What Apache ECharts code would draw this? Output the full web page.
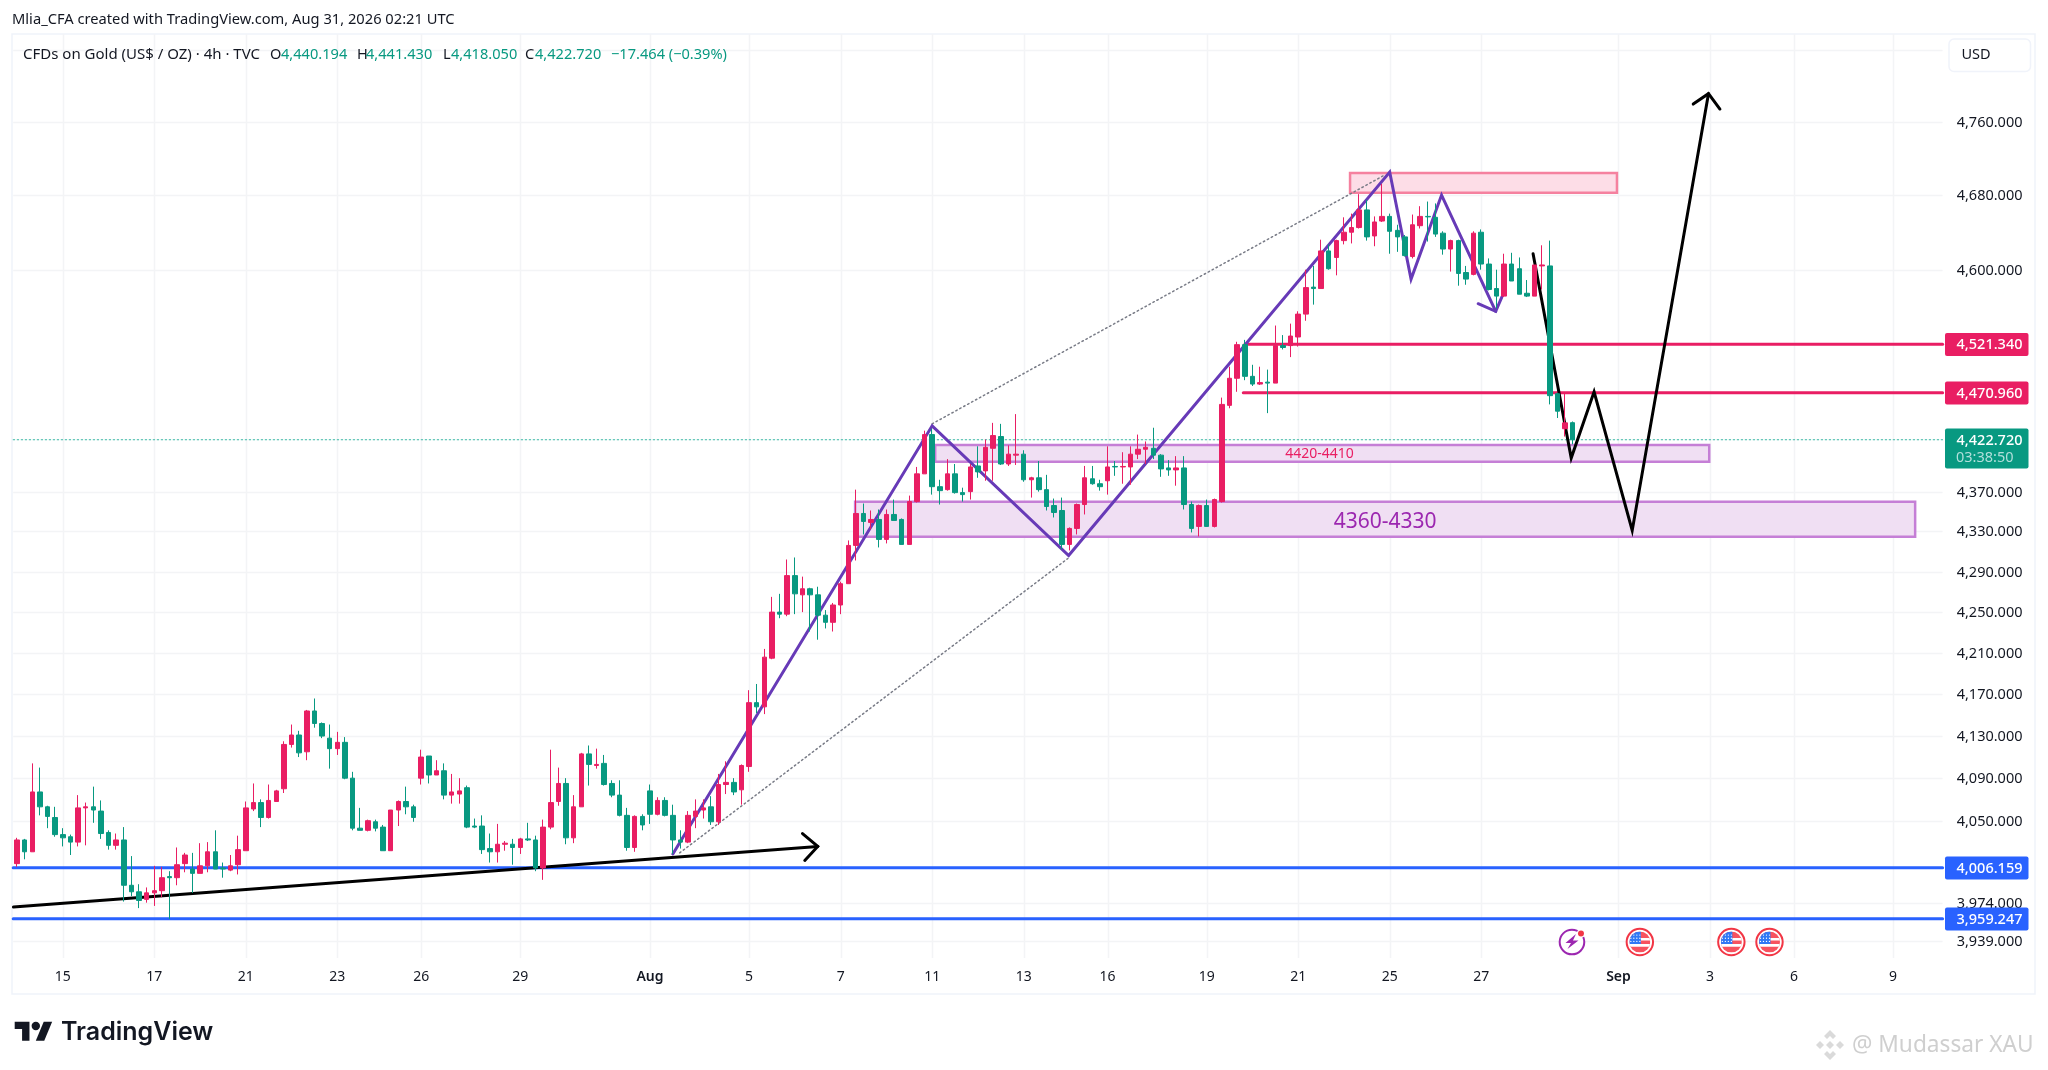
<!DOCTYPE html>
<html><head><meta charset="utf-8">
<style>html,body{margin:0;padding:0;background:#fff}#c{width:2048px;height:1070px}</style>
<script src="https://cdn.jsdelivr.net/npm/echarts@6/dist/echarts.min.js"></script>
</head><body><div id="c"></div>
<script>
// bar rows: [open, close, low, high]
const candles = [
[4010,4032,4007,4034],[4032,4021,4014,4033],[4021,4077,4021,4104],[4077,4063,4055,4100],[4063,4054,4043,4064],[4053,4037,4035,4063],[4037,4034,4026,4043],[4035,4030,4018,4037],[4030,4062,4026,4074],[4062,4063,4027,4067],
[4063,4060,4048,4082],[4059,4038,4033,4069],[4039,4027,4023,4041],[4027,4032,4023,4038],[4032,3990,3975,4044],[3990,3984,3980,4017],[3984,3976,3969,3991],[3977,3983,3974,3988],[3983,3985,3971,4008],[3985,3997,3979,4007],
[3998,3997,3959,4003],[3997,4009,3990,4025],[4010,4018,4002,4020],[4005,4001,3983,4020],[4001,4008,4001,4029],[4008,4021,4002,4030],[4021,4005,4005,4041],[4006,4005,3997,4011],[4004,4008,4003,4018],[4009,4023,4000,4036],
[4022,4062,4022,4068],[4061,4067,4059,4085],[4067,4053,4044,4070],[4053,4069,4052,4084],[4068,4078,4068,4079],[4080,4122,4076,4125],[4122,4131,4119,4141],[4131,4114,4110,4135],[4115,4154,4107,4155],[4154,4142,4138,4166],
[4142,4130,4128,4143],[4128,4118,4099,4141],[4118,4124,4112,4134],[4124,4090,4089,4129],[4090,4043,4041,4096],[4043,4041,4041,4062],[4041,4050,4040,4051],[4049,4043,4040,4051],[4044,4022,4022,4046],[4022,4060,4022,4060],
[4060,4068,4045,4069],[4068,4063,4056,4082],[4063,4053,4049,4065],[4090,4110,4084,4117],[4111,4093,4085,4111],[4093,4097,4093,4107],[4097,4074,4070,4104],[4074,4077,4066,4094],[4075,4078,4066,4090],[4081,4044,4043,4083],
[4045,4044,4043,4052],[4045,4023,4019,4055],[4024,4021,4011,4038],[4021,4028,4011,4047],[4028,4029,4022,4031],[4028,4025,4009,4033],[4025,4033,4019,4034],[4033,4032,4031,4048],[4032,4006,4003,4036],[4006,4044,3995,4051],
[4044,4067,4042,4117],[4068,4085,4064,4100],[4085,4034,4028,4090],[4034,4063,4029,4074],[4063,4113,4063,4114],[4113,4103,4083,4121],[4102,4103,4099,4118],[4104,4084,4083,4112],[4085,4074,4072,4088],[4074,4055,4054,4088],
[4055,4025,4022,4062],[4025,4054,4021,4055],[4054,4046,4041,4056],[4078,4056,4047,4084],[4056,4069,4055,4072],[4069,4055,4054,4072],[4055,4032,4019,4065],[4032,4030,4024,4041],[4030,4055,4029,4059],[4054,4059,4043,4070],
[4060,4062,4052,4070],[4063,4049,4046,4073],[4049,4084,4046,4094],[4084,4086,4075,4106],[4086,4077,4074,4090],[4079,4102,4065,4103],[4101,4162,4096,4174],[4162,4158,4152,4180],[4158,4206,4151,4214],[4205,4250,4204,4265],
[4250,4248,4244,4268],[4248,4286,4246,4302],[4286,4268,4248,4304],[4267,4273,4250,4285],[4273,4267,4231,4274],[4267,4247,4223,4275],[4247,4240,4234,4252],[4240,4257,4231,4259],[4257,4278,4248,4280],[4278,4316,4278,4321],
[4316,4348,4301,4372],[4348,4340,4327,4358],[4339,4342,4332,4351],[4342,4322,4314,4352],[4322,4347,4318,4352],[4347,4341,4341,4362],[4342,4317,4317,4343],[4317,4360,4317,4366],[4360,4388,4359,4395],[4388,4428,4388,4432],
[4428,4375,4367,4434],[4375,4371,4357,4382],[4372,4388,4371,4403],[4388,4369,4368,4398],[4369,4367,4360,4374],[4370,4395,4362,4398],[4396,4390,4384,4416],[4391,4415,4381,4423],[4414,4427,4381,4440],[4426,4398,4397,4439],
[4398,4408,4396,4417],[4407,4408,4397,4449],[4408,4382,4380,4412],[4382,4384,4364,4385],[4384,4372,4370,4401],[4372,4355,4351,4387],[4356,4349,4344,4363],[4351,4317,4312,4364],[4317,4333,4311,4334],[4333,4357,4327,4358],
[4357,4384,4347,4396],[4383,4378,4377,4396],[4378,4375,4371,4382],[4381,4395,4367,4416],[4395.5,4395,4386,4401],[4395,4395.5,4378,4410],[4395,4408,4377,4416],[4408,4413,4403,4428],[4413,4415,4398,4421],[4414,4407,4403,4435],
[4407,4393,4385,4408],[4394,4392,4386,4402],[4392,4394,4376,4406],[4394,4357,4352,4406],[4357,4333,4329,4360],[4335,4356,4325,4357],[4356,4335,4335,4362],[4335,4362,4334,4363],[4360,4459,4359,4466],[4458,4486,4455,4498],
[4486,4521,4472,4524],[4521,4488,4484,4526],[4488,4480,4478,4500],[4480,4481.5,4479,4498],[4482,4481,4450,4495],[4481,4520,4481,4541],[4520,4518,4516,4531],[4520,4530,4508,4543],[4529,4553,4519,4556],[4553,4581,4546,4600],
[4581.5,4580,4563,4604],[4580,4620,4580,4632],[4620,4601,4600,4627],[4613,4631,4594,4632],[4631,4640,4627,4656],[4640,4645,4628,4660],[4645,4664,4644,4681],[4664,4635,4631,4675],[4636,4651,4625,4657],[4652,4657,4651,4692],
[4657,4641,4617,4660],[4642,4635,4619,4648],[4635,4615,4614,4637],[4614,4648,4612,4659],[4647,4657,4644,4668],[4657,4656.5,4630,4673],[4656,4638,4635,4671],[4639,4622,4616,4641],[4622,4631,4598,4632],[4631,4596,4583,4632],
[4597,4590,4584,4604],[4595,4639,4594,4641],[4640,4606,4600,4643],[4606,4579,4578,4612],[4580,4572,4559,4600],[4572,4606,4571,4617],[4606,4588,4588,4618],[4601,4574,4574,4613],[4575,4572,4571,4589],[4572,4605,4572,4605],
[4604,4605,4579,4626],[4604,4468,4459,4631],[4470,4452,4445,4471],[4434,4440,4426,4470],[4440.194,4422.72,4418.05,4441.43]
];
const BAR_SLOTS = 253;
const dateTickBars = [6,18,30,42,53,66,83,96,108,120,132,143,156,168,180,192,210,222,233,246];
const dateTickLabels = ['15','17','21','23','26','29','Aug','5','7','11','13','16','19','21','25','27','Sep','3','6','9'];
const monthLabels = ['Aug','Sep'];
const priceTicks = [4760,4680,4600,4370,4330,4290,4250,4210,4170,4130,4090,4050,3974,3939];
const gridOnlyPrices = [4840];
const pinkLevels = [[4521.34,161],[4470.96,160.8]];
const blueLevels = [4006.159,3959.247];
const lastPrice = 4422.72;
// drawings: [bar, price]
const purplePath = [[86,4019],[120,4437],[137.9,4306],[180,4705],[182.8,4590],[186.8,4680],[193.9,4556]];
const purpleArrow = [[191.6,4564],[193.9,4556],[194.7,4571]];
const trendLine = [[-0.47,3970],[105,4026]];
const trendArrow = [[103,4038],[105,4026],[103.3,4013]];
const forecastPath = [[198.8,4617],[203.8,4404],[206.8,4472],[211.8,4331],[221.8,4791]];
const forecastArrow = [[219.8,4779.5],[221.8,4791],[223.3,4774]];
const dottedLines = [[[86.9,4020],[137.8,4303]],[[120,4439],[179.4,4702]]];
// boxes: bar0, bar1, priceTop, priceBottom
const pinkBoxes = [[174.8,209.8,4704,4682.5]];
const purpleBoxes = [[120.4,221.9,4417.3,4400.2],[109.9,248.9,4359.8,4324.7]];
const boxLabels = [[170.8,4408.5,'4420-4410','#E91E63',14],[179.4,4339.5,'4360-4330','#9C27B0',21]];
const eventFlagBars = [212.8,224.8,229.8];
const eventBoltBars = [203.9];
const eventPrice = 3938;

const FONT = '"Noto Sans"';
const PINK='#E91E63', GREEN='#089981', BLUE='#2962FF', GRID='#F3F4F6';
const categories = Array.from({length:BAR_SLOTS},(_,i)=>{const k=dateTickBars.indexOf(i);return k>=0?dateTickLabels[k]:''});
const fmt = v => v.toLocaleString('en-US',{minimumFractionDigits:3,maximumFractionDigits:3});

const line = (data,color,width,type,z)=>({type:'line',xAxisIndex:1,yAxisIndex:0,data,symbol:'none',silent:true,animation:false,z:z||3,
  lineStyle:{color,width,type:type||'solid',join:'miter',cap:'round'}});

const priceFlag = (rows)=>({type:'custom',xAxisIndex:1,yAxisIndex:0,z:9,silent:true,
  data:rows,
  renderItem(p,api){
    const y=api.coord([0,api.value(0)])[1], r=rows[p.dataIndex];
    const h=r.sub?40:23, top=y-11.3;
    const ch=[{type:'rect',shape:{x:1945,y:top,width:83.5,height:h,r:2},style:{fill:r.color}},
      {type:'text',style:{x:2022.5,y:y+.8,text:fmt(r.value[0]),fill:'#fff',font:'500 14.5px '+FONT,align:'right',verticalAlign:'middle'}}];
    if(r.sub)ch.push({type:'text',style:{x:1956,y:y+18.5,text:r.sub,fill:'#B2DFDB',font:'14.5px '+FONT,align:'left',verticalAlign:'middle'}});
    return {type:'group',children:ch};
  }});

const series=[
 // gridlines
 {type:'custom',xAxisIndex:1,yAxisIndex:0,z:0,silent:true,data:priceTicks.concat(gridOnlyPrices).map(v=>[v]),
  renderItem(p,api){const y=Math.round(api.coord([0,api.value(0)])[1])+.5,c=p.coordSys;
    return {type:'line',shape:{x1:c.x,y1:y,x2:c.x+c.width,y2:y},style:{stroke:GRID,lineWidth:1.5}}}},
 {type:'custom',xAxisIndex:1,yAxisIndex:0,z:0,silent:true,data:dateTickBars.map(v=>[v,4000]),
  renderItem(p,api){const x=Math.round(api.coord([api.value(0),4000])[0])+.5,c=p.coordSys;
    return {type:'line',shape:{x1:x,y1:c.y,x2:x,y2:c.y+c.height},style:{stroke:GRID,lineWidth:1.5}}}},
 // boxes
 {type:'custom',xAxisIndex:1,yAxisIndex:0,z:1,silent:true,data:pinkBoxes.concat(purpleBoxes),
  renderItem(p,api){const a=api.coord([api.value(0),api.value(2)]),b=api.coord([api.value(1),api.value(3)]);
    const isPink=p.dataIndex<pinkBoxes.length;
    return {type:'rect',shape:{x:a[0],y:a[1],width:b[0]-a[0],height:b[1]-a[1]},
      style:{fill:isPink?'#FDDDE7':'#F0DFF3',stroke:isPink?'#F5819F':'#C57FD6',lineWidth:2.5}}}},
 line(blueLevels.map(v=>[[-0.5,v],[BAR_SLOTS-0.5,v]])[0],BLUE,3),
 line(blueLevels.map(v=>[[-0.5,v],[BAR_SLOTS-0.5,v]])[1],BLUE,3),
 line(pinkLevels.map(v=>[[v[1],v[0]],[BAR_SLOTS-0.5,v[0]]])[0],PINK,3),
 line(pinkLevels.map(v=>[[v[1],v[0]],[BAR_SLOTS-0.5,v[0]]])[1],PINK,3),
 line([[-0.5,lastPrice],[BAR_SLOTS-0.5,lastPrice]],'#3DB8A5',1,[1.5,2.5]),
 line(dottedLines[0],'#787B86',1.5,[1.5,3]),
 line(dottedLines[1],'#787B86',1.5,[1.5,3]),
 line(purplePath,'#673AB7',3),
 line(purpleArrow,'#673AB7',3),
 line(trendLine,'#000',3),
 line(trendArrow,'#000',3),
 line(forecastPath,'#000',3),
 line(forecastArrow,'#000',3),
 // candles
 {type:'candlestick',xAxisIndex:0,yAxisIndex:0,data:candles,barWidth:5,z:5,silent:true,
  itemStyle:{color:PINK,color0:GREEN,borderColor:PINK,borderColor0:GREEN,borderColorDoji:PINK,borderWidth:1}},
 // box captions
 {type:'custom',xAxisIndex:1,yAxisIndex:0,z:6,silent:true,data:boxLabels.map(r=>[r[0],r[1]]),
  renderItem(p,api){const a=api.coord([api.value(0),api.value(1)]),r=boxLabels[p.dataIndex];
    return {type:'text',style:{x:a[0],y:a[1],text:r[2],fill:r[3],font:r[4]+'px '+FONT,align:'center',verticalAlign:'middle'}}}},
 // price scale labels
 {type:'custom',xAxisIndex:1,yAxisIndex:0,z:8,silent:true,data:priceTicks.map(v=>[v]),
  renderItem(p,api){const y=api.coord([0,api.value(0)])[1];
    return {type:'text',style:{x:2022.5,y:y+.8,text:fmt(api.value(0)),fill:'#131722',font:'14.5px '+FONT,align:'right',verticalAlign:'middle'}}}},
 priceFlag([{value:[pinkLevels[0][0]],color:PINK},{value:[pinkLevels[1][0]],color:PINK},
   {value:[lastPrice],color:GREEN,sub:'03:38:50'},{value:[blueLevels[0]],color:BLUE},{value:[blueLevels[1]],color:BLUE}]),
 // event icons
 {type:'custom',xAxisIndex:1,yAxisIndex:0,z:7,silent:true,data:eventFlagBars.map(b=>[b,eventPrice]),
  renderItem(p,api){const a=api.coord([api.value(0),api.value(1)]),x=a[0],y=a[1],r=10.5;
    const dots=[];for(let i=0;i<4;i++)for(let j=0;j<3;j++)dots.push({type:'circle',shape:{cx:x-9+i*3,cy:y-7+j*3.2,r:.65},style:{fill:'#fff'}});
    return {type:'group',children:[
      {type:'circle',shape:{cx:x,cy:y,r:13.2},style:{fill:'#fff',stroke:'#F23645',lineWidth:2}},
      {type:'group',clipPath:{type:'circle',shape:{cx:x,cy:y,r:r}},children:[
        {type:'rect',shape:{x:x-r,y:y-r,width:2*r,height:2*r},style:{fill:'#F7525F'}},
        {type:'rect',shape:{x:x,y:y-4,width:r,height:2.4},style:{fill:'#fff'}},
        {type:'rect',shape:{x:x-r,y:y+2,width:2*r,height:2.8},style:{fill:'#fff'}},
        {type:'rect',shape:{x:x-r,y:y-r,width:r+1,height:r+2},style:{fill:'#3179F5'}}
      ].concat(dots)}
    ]}}},
 {type:'custom',xAxisIndex:1,yAxisIndex:0,z:7,silent:true,data:eventBoltBars.map(b=>[b,eventPrice]),
  renderItem(p,api){const a=api.coord([api.value(0),api.value(1)]),x=a[0],y=a[1];
    return {type:'group',children:[
      {type:'circle',shape:{cx:x,cy:y,r:12.3},style:{fill:'#fff',stroke:'#9C27B0',lineWidth:2}},
      {type:'polygon',shape:{points:[[x+4,y-8],[x-6.5,y+1],[x-1,y+1],[x-4.5,y+7],[x+6.5,y-1.5],[x+1,y-1.5]]},style:{fill:'#9C27B0'}},
      {type:'circle',shape:{cx:x+9,cy:y-8.5,r:4.2},style:{fill:'#fff'}},
      {type:'circle',shape:{cx:x+9,cy:y-8.5,r:3},style:{fill:'#F23645'}}
    ]}}}
];

const T=(text,x,y,fill,font)=>({type:'text',silent:true,z:30,style:{x,y,text,fill,font,align:'left',verticalAlign:'middle'}});
const legendF='14.6px '+FONT;
const LX=14.7, LY=1017.5, LS=1.055;
const logoPt=(a)=>a.map(p=>[LX+p[0]*LS,LY+p[1]*LS]);
const graphic=[
 {type:'rect',silent:true,z:-1,shape:{x:12,y:34,width:2023,height:960},style:{fill:'none',stroke:'#F0F3FA',lineWidth:1.5}},
 {type:'rect',silent:true,z:20,shape:{x:1949,y:39,width:81.5,height:32.5,r:5},style:{fill:'#fff',stroke:'#F0F3FA',lineWidth:1.5}},
 T('USD',1961.5,55,'#131722','14.5px '+FONT),
 T('Mlia_CFA created with TradingView.com, Aug 31, 2026 02:21 UTC',12,20,'#131722','14.7px '+FONT),
 T('CFDs on Gold (US$ / OZ) · 4h · TVC',23,54.5,'#131722','15px '+FONT),
 T('O',270,54.5,'#131722',legendF),T('4,440.194',281,54.5,GREEN,legendF),
 T('H',357,54.5,'#131722',legendF),T('4,441.430',366,54.5,GREEN,legendF),
 T('L',443,54.5,'#131722',legendF),T('4,418.050',451,54.5,GREEN,legendF),
 T('C',525,54.5,'#131722',legendF),T('4,422.720',535,54.5,GREEN,legendF),
 T('−17.464 (−0.39%)',611,54.5,GREEN,legendF),
 {type:'polygon',silent:true,shape:{points:logoPt([[14,22],[7,22],[7,11],[0,11],[0,4],[14,4]])},style:{fill:'#131722'}},
 {type:'polygon',silent:true,shape:{points:logoPt([[28,22],[20,22],[27.5,4],[35.5,4]])},style:{fill:'#131722'}},
 {type:'circle',silent:true,shape:{cx:LX+20*LS,cy:LY+8*LS,r:4.2},style:{fill:'#131722'}},
 T('TradingView',61,1032,'#131722','600 25px Inter'),
 // watermark
 T('@ Mudassar XAU',1852,1046,'#CFCFCF','22.7px '+FONT),
 {type:'polygon',silent:true,shape:{points:[[1830,1030],[1836,1036],[1833,1039],[1830,1036],[1827,1039],[1824,1036]]},style:{fill:'#DADADA'}},
 {type:'polygon',silent:true,shape:{points:[[1830,1060],[1836,1054],[1833,1051],[1830,1054],[1827,1051],[1824,1054]]},style:{fill:'#DADADA'}},
 {type:'polygon',silent:true,shape:{points:[[1830,1041],[1834,1045],[1830,1049],[1826,1045]]},style:{fill:'#DADADA'}},
 {type:'polygon',silent:true,shape:{points:[[1820,1041],[1824,1045],[1820,1049],[1816,1045]]},style:{fill:'#DADADA'}},
 {type:'polygon',silent:true,shape:{points:[[1840,1041],[1844,1045],[1840,1049],[1836,1045]]},style:{fill:'#DADADA'}}
];

const chart=echarts.init(document.getElementById('c'),null,{renderer:'canvas'});
chart.setOption({
 animation:false,backgroundColor:'#fff',
 grid:{left:13.2,top:34,width:1929.4,height:924,containLabel:false},
 xAxis:[
  {type:'category',data:categories,boundaryGap:true,axisLine:{show:false},axisTick:{show:false},splitLine:{show:false},
   axisLabel:{interval:(i)=>categories[i]!=='',hideOverlap:false,margin:12,color:'#131722',fontFamily:FONT,fontSize:14,
     formatter:v=>monthLabels.includes(v)?'{m|'+v+'}':v,rich:{m:{fontWeight:600,fontFamily:FONT,fontSize:14,color:'#131722'}}}},
  {type:'value',min:-0.5,max:BAR_SLOTS-0.5,show:false,splitLine:{show:false}}
 ],
 yAxis:{type:'log',min:3923.5,max:4857.5,position:'right',axisLine:{show:false},axisTick:{show:false},axisLabel:{show:false},splitLine:{show:false},minorSplitLine:{show:false}},
 series,graphic
});
</script></body></html>
